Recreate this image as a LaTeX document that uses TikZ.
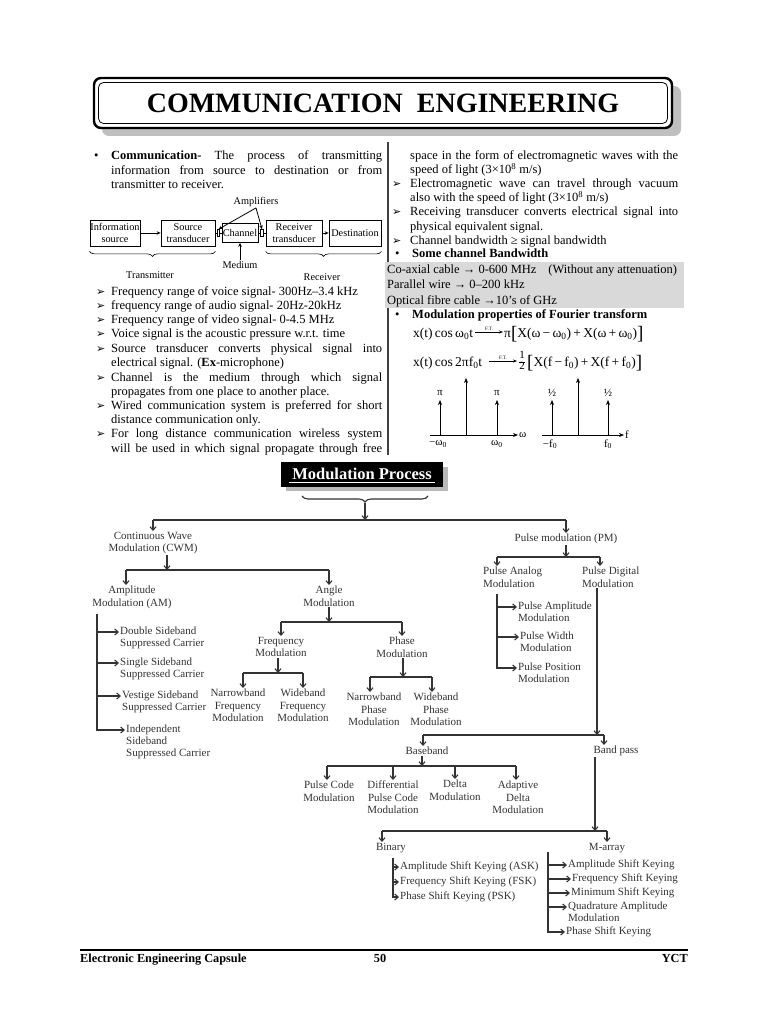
\documentclass[tikz,border=0pt]{standalone}
\usepackage{fontspec}
\setmainfont{Liberation Serif}
\newfontfamily\dejavu{DejaVu Sans}
\usetikzlibrary{arrows.meta,decorations.pathreplacing,calc}
\newcommand\bodyf{\fontsize{12.5}{14.2}\selectfont}
\newcommand\treef{\fontsize{11}{12.2}\selectfont}
\newcommand\blkf{\fontsize{10.3}{11.5}\selectfont}
\newcommand\frmf{\fontsize{13.5}{13.5}\selectfont}
\newcommand\arrb[1][15pt]{\makebox[#1][l]{\raisebox{0pt}{\dejavu\fontsize{11}{11}\selectfont ➢}}}
\newcommand\dotb[1][15pt]{\makebox[#1][l]{\textbullet}}
\newcommand\jl[2][271pt]{\makebox[#1][s]{#2}}
\newcommand\tabl[1]{\begin{tabular}[t]{@{}l@{}}#1\end{tabular}}
\newcommand\bigbr[1]{\raisebox{-2.5pt}{\fontsize{19}{19}\selectfont #1}}
\newcommand\op[1]{\,#1\,}
\definecolor{ink}{gray}{0.2}
\definecolor{band}{gray}{0.85}
\begin{document}
\begin{tikzpicture}[x=1pt,y=-1pt,
  txt/.style={anchor=base west,inner sep=0pt,font=\bodyf},
  blk/.style={draw,line width=0.8pt,font=\blkf,align=center,inner sep=0.5pt,minimum height=26pt},
  bl/.style={font=\blkf,inner sep=1pt},
  barr/.style={line width=0.8pt,-{Stealth[length=4pt,width=3.5pt]}},
  tn/.style={font=\treef,text=ink,align=center,inner sep=1pt,anchor=north},
  tnw/.style={font=\treef,text=ink,align=left,inner sep=1pt,anchor=north west},
  tnl/.style={font=\treef,text=ink,inner sep=0pt,anchor=mid west},
  tline/.style={draw=ink,line width=1.1pt},
  tarr/.style={draw=ink,line width=1.1pt,-{Straight Barb[length=3.5pt,width=6pt]}},
  harr/.style={tarr,shorten >=1pt},
  sarr/.style={line width=0.7pt,-{Stealth[length=5pt,width=4pt]}},
  fl/.style={anchor=base west,inner sep=0pt,font=\frmf},
  sl/.style={font=\fontsize{11}{11}\selectfont,inner sep=1pt},
]
\useasboundingbox (0,0) rectangle (768,1024);
\fill[white] (0,0) rectangle (768,1024);

% ---------- title ----------
\fill[gray!50,rounded corners=7pt] (102,86) rectangle (681,136);
\draw[line width=2.4pt,fill=white,rounded corners=7pt] (94,78) rectangle (672,128);
\draw[line width=0.8pt,rounded corners=5pt] (98.5,82.5) rectangle (667.5,123.5);
\node[font=\bfseries\fontsize{28}{30}\selectfont,inner sep=0pt] (title) at (383,103) {COMMUNICATION\ \ ENGINEERING};

% ---------- column divider ----------
\draw[line width=1.5pt,black!75] (388,142) -- (388,455);

% ---------- left column ----------
\node[txt] (c1) at (94,160) {\dotb[17pt]\jl[271pt]{\textbf{Communication-} The process of transmitting}};
\node[txt] (c2) at (111,175) {\jl{information from source to destination or from}};
\node[txt] (c3) at (111,189) {transmitter to receiver.};

% block diagram
\node[bl] (amp) at (256,202) {Amplifiers};
\node[blk,minimum width=50pt] (info) at (115,233) {Information\\source};
\node[blk,minimum width=54pt] (st) at (188,233) {Source\\transducer};
\node[blk,minimum width=36pt,minimum height=19pt] (ch) at (240,233) {Channel};
\node[blk,minimum width=56pt] (rt) at (294,233) {Receiver\\transducer};
\node[blk,minimum width=52pt] (dest) at (355,233) {Destination};
\draw[barr] (info) -- (st);
\draw[line width=0.8pt] (st) -- (ch);
\draw[line width=0.8pt] (ch) -- (rt);
\path (st.east) -- node[draw,fill=white,minimum width=2.5pt,minimum height=7pt,inner sep=0pt,line width=0.6pt] (k1) {} (ch.west);
\path (ch.east) -- node[draw,fill=white,minimum width=2.5pt,minimum height=7pt,inner sep=0pt,line width=0.6pt] (k2) {} (rt.west);
\draw[barr] (rt) -- (dest);
\draw[barr] (amp.south) -- (k1.north);
\draw[barr] (amp.south) -- (k2.north);
\node[bl] (med) at (240,265) {Medium};
\draw[barr] (med.north) -- (ch.south);
\draw[decorate,decoration={brace,mirror,amplitude=5pt},line width=0.6pt] ($(info.south west)+(0,5)$) -- ($(st.south east)+(0,5)$);
\draw[decorate,decoration={brace,mirror,amplitude=5pt},line width=0.6pt] ($(rt.south west)+(0,5)$) -- ($(dest.south east)+(0,5)$);
\node[bl] (tx) at (150,275) {Transmitter};
\node[bl] (rx) at (322,277) {Receiver};

\node[txt] (b1) at (96,295) {\arrb Frequency range of voice signal- 300Hz–3.4 kHz};
\node[txt] (b2) at (96,309) {\arrb frequency range of audio signal- 20Hz-20kHz};
\node[txt] (b3) at (96,323) {\arrb Frequency range of video signal- 0-4.5 MHz};
\node[txt] (b4) at (96,337) {\arrb Voice signal is the acoustic pressure w.r.t. time};
\node[txt] (b5) at (96,352) {\arrb\jl{Source transducer converts physical signal into}};
\node[txt] (b5b) at (111,366) {electrical signal. (\textbf{Ex}-microphone)};
\node[txt] (b6) at (96,381) {\arrb\jl{Channel is the medium through which signal}};
\node[txt] (b6b) at (111,395) {propagates from one place to another place.};
\node[txt] (b7) at (96,409) {\arrb\jl{Wired communication system is preferred for short}};
\node[txt] (b7b) at (111,423) {distance communication only.};
\node[txt] (b8) at (96,437) {\arrb\jl{For long distance communication wireless system}};
\node[txt] (b8b) at (111,452) {\jl{will be used in which signal propagate through free}};

% ---------- right column ----------
\node[txt] (r1) at (410,160) {\jl[268pt]{space in the form of electromagnetic waves with the}};
\node[txt] (r2) at (410,174) {speed of light (3×10\textsuperscript{8} m/s)};
\node[txt] (r3) at (392,188) {\arrb[18pt]\jl[268pt]{Electromagnetic wave can travel through vacuum}};
\node[txt] (r4) at (410,202) {also with the speed of light (3×10\textsuperscript{8} m/s)};
\node[txt] (r5) at (392,216) {\arrb[18pt]\jl[268pt]{Receiving transducer converts electrical signal into}};
\node[txt] (r6) at (410,230) {physical equivalent signal.};
\node[txt] (r7) at (392,244) {\arrb[18pt]Channel bandwidth ≥ signal bandwidth};
\node[txt] (r8) at (395,258) {\dotb[17pt]\textbf{Some channel Bandwidth}};
\fill[band] (385,262) rectangle (684,308);
\node[txt] (g1) at (387,273) {Co-axial cable → 0-600 MHz\hspace{12pt}(Without any attenuation)};
\node[txt] (g2) at (387,288.5) {Parallel wire → 0–200 kHz};
\node[txt] (g3) at (387,304) {Optical fibre cable →10’s of GHz};
\node[txt] (r9) at (395,318) {\dotb[17pt]\textbf{Modulation properties of Fourier transform}};

% formulas
\node[fl] (f1a) at (413,337) {x(t)\,cos\,ω\textsubscript{0}t};
\coordinate (f1s) at (475,332);
\coordinate (f1e) at (503,332);
\draw[line width=0.6pt,-{Stealth[length=4pt,width=3pt]}] (f1s) -- node[above,font=\fontsize{5}{5}\selectfont,inner sep=1pt] (ft1) {F.T.} (f1e);
\node[fl] (f1b) at (504,337) {π\bigbr{[}X(ω\op{−}ω\textsubscript{0})\op{+}X(ω\op{+}ω\textsubscript{0})\bigbr{]}};

\node[fl] (f2a) at (413,366) {x(t)\,cos\,2πf\textsubscript{0}t};
\coordinate (f2s) at (489,361);
\coordinate (f2e) at (517,361);
\draw[line width=0.6pt,-{Stealth[length=4pt,width=3pt]}] (f2s) -- node[above,font=\fontsize{5}{5}\selectfont,inner sep=1pt] (ft2) {F.T.} (f2e);
\node[inner sep=0pt,font=\fontsize{11}{11}\selectfont] (half) at (522,362) {\renewcommand\arraystretch{0.85}\begin{tabular}{@{}c@{}}1\\\hline 2\end{tabular}};
\node[fl] (f2b) at (527,366) {\bigbr{[}X(f\op{−}f\textsubscript{0})\op{+}X(f\op{+}f\textsubscript{0})\bigbr{]}};

% spectra
\coordinate (a1s) at (430,435);
\coordinate (a1e) at (518,435);
\draw[sarr] (a1s) -- (a1e);
\node[sl,anchor=west] (om) at (a1e) {ω};
\coordinate (p1) at (440,435);
\coordinate (p2) at (466,435);
\coordinate (p3) at (497,435);
\draw[sarr] (p1) -- ++(0,-35);
\draw[sarr] (p2) -- ++(0,-57);
\draw[sarr] (p3) -- ++(0,-35);
\node[sl] (pi1) at (440,393) {π};
\node[sl] (pi2) at (497,393) {π};
\node[sl] (mw) at (438,444) {−ω\textsubscript{0}};
\node[sl] (pw) at (497,444) {ω\textsubscript{0}};

\coordinate (a2s) at (542,435);
\coordinate (a2e) at (624,435);
\draw[sarr] (a2s) -- (a2e);
\node[sl,anchor=west] (fl) at (a2e) {f};
\coordinate (q1) at (552,435);
\coordinate (q2) at (578,435);
\coordinate (q3) at (608,435);
\draw[sarr] (q1) -- ++(0,-35);
\draw[sarr] (q2) -- ++(0,-57);
\draw[sarr] (q3) -- ++(0,-35);
\node[sl] (h1) at (552,393) {½};
\node[sl] (h2) at (608,393) {½};
\node[sl] (mf) at (550,444) {−f\textsubscript{0}};
\node[sl] (pf) at (608,444) {f\textsubscript{0}};

% ---------- modulation process ----------
\fill[gray!55] (286,467) rectangle (448,491);
\node[fill=black,text=white,font=\bfseries\fontsize{16.5}{16.5}\selectfont,minimum width=162pt,minimum height=25pt,inner sep=0pt] (mp) at (362,474) {Modulation Process};
\draw[white,line width=1pt] ($(mp.south west)+(8,-4)$) -- ($(mp.south east)+(-8,-4)$);
\draw[tline,decorate,decoration={brace,mirror,amplitude=6pt}] (302,496) -- (428,496);
\coordinate (bt) at (365,503);
\coordinate (j1) at (365,520);
\draw[tarr] (bt) -- (j1);

\node[tn] (cwm) at (153,531) {Continuous Wave\\Modulation (CWM)};
\node[tn] (pm) at (566,533) {Pulse modulation (PM)};
\draw[tline] (cwm.north |- j1) -- (pm.north |- j1);
\draw[tarr] (cwm.north |- j1) -- (cwm.north);
\draw[tarr] (pm.north |- j1) -- (pm.north);

\node[tn] (am) at (132,585) {Amplitude\\Modulation (AM)};
\node[tn] (angle) at (329,585) {Angle\\Modulation};
\coordinate (j2a) at (126,570);
\coordinate (j2b) at (329,570);
\coordinate (j2c) at (167,570);
\draw[tline] (j2a) -- (j2b);
\draw[tarr] (j2c |- cwm.south) -- (j2c);
\draw[tarr] (j2a) -- (j2a |- am.north);
\draw[tarr] (j2b) -- (angle.north);

\node[tnw] (pam) at (482,566) {Pulse Analog\\Modulation};
\node[tnw] (pdm) at (581,566) {Pulse Digital\\Modulation};
\coordinate (j3a) at (497,557);
\coordinate (j3b) at (600,557);
\draw[tline] (j3a) -- (j3b);
\draw[tarr] (pm.south) -- (pm.south |- j3a);
\draw[tarr] (j3a) -- (j3a |- pam.north);
\draw[tarr] (j3b) -- (j3b |- pdm.north);

% AM list
\node[tnl] (dsb) at (120,632) {\tabl{Double Sideband\\Suppressed Carrier}};
\node[tnl] (ssb) at (120,663) {\tabl{Single Sideband\\Suppressed Carrier}};
\node[tnl] (vsb) at (122,696) {\tabl{Vestige Sideband\\Suppressed Carrier}};
\node[tnl] (isb) at (126,730) {\tabl{Independent\\Sideband\\Suppressed Carrier}};
\coordinate (amv) at (97,614);
\draw[harr] (amv |- dsb.mid west) -- (dsb.mid west);
\draw[harr] (amv |- ssb.mid west) -- (ssb.mid west);
\draw[harr] (amv |- vsb.mid west) -- (vsb.mid west);
\draw[harr] (amv) |- (isb.mid west);

% angle
\node[tn] (fm) at (281,636) {Frequency\\Modulation};
\node[tn] (phm) at (402,636) {Phase\\Modulation};
\coordinate (j4a) at (281,622);
\coordinate (j4b) at (402,622);
\draw[tline] (j4a) -- (j4b);
\draw[tarr] (angle.south) -- (angle.south |- j4a);
\draw[tarr] (j4a) -- (fm.north);
\draw[tarr] (j4b) -- (phm.north);

\node[tn] (nbfm) at (238,688) {Narrowband\\Frequency\\Modulation};
\node[tn] (wbfm) at (303,688) {Wideband\\Frequency\\Modulation};
\coordinate (j5a) at (243,673);
\coordinate (j5b) at (303,673);
\coordinate (j5c) at (278,673);
\draw[tline] (j5a) -- (j5b);
\draw[tarr] (j5c |- fm.south) -- (j5c);
\draw[tarr] (j5a) -- (j5a |- nbfm.north);
\draw[tarr] (j5b) -- (wbfm.north);

\node[tn] (nbpm) at (374,692) {Narrowband\\Phase\\Modulation};
\node[tn] (wbpm) at (436,692) {Wideband\\Phase\\Modulation};
\coordinate (j6a) at (370,677);
\coordinate (j6b) at (432,677);
\coordinate (j6c) at (403,677);
\draw[tline] (j6a) -- (j6b);
\draw[tarr] (j6c |- phm.south) -- (j6c);
\draw[tarr] (j6a) -- (j6a |- nbpm.north);
\draw[tarr] (j6b) -- (j6b |- wbpm.north);

% pulse analog list
\node[tnl] (pamp) at (518,607) {\tabl{Pulse Amplitude\\Modulation}};
\node[tnl] (pwm) at (520,637) {\tabl{Pulse Width\\Modulation}};
\node[tnl] (ppm) at (518,668) {\tabl{Pulse Position\\Modulation}};
\coordinate (pav) at (497,594);
\draw[harr] (pav |- pamp.mid west) -- (pamp.mid west);
\draw[harr] (pav |- pwm.mid west) -- (pwm.mid west);
\draw[harr] (pav) |- (ppm.mid west);

% pulse digital
\node[tn] (baseband) at (427,746) {Baseband};
\node[tn] (bandpass) at (616,745) {Band pass};
\coordinate (j7a) at (423,735);
\coordinate (j7b) at (604,735);
\coordinate (j7c) at (597,735);
\draw[tline] (j7a) -- (j7b);
\draw[tarr] (j7c |- pdm.south) -- (j7c);
\draw[tarr] (j7a) -- (j7a |- baseband.north);
\draw[tarr] (j7b) -- (j7b |- bandpass.north);

\node[tn] (pcm) at (329,780) {Pulse Code\\Modulation};
\node[tn] (dpcm) at (393,780) {Differential\\Pulse Code\\Modulation};
\node[tn] (dm) at (455,779) {Delta\\Modulation};
\node[tn] (adm) at (518,780) {Adaptive\\Delta\\Modulation};
\coordinate (j8a) at (327,766);
\coordinate (j8b) at (393,766);
\coordinate (j8c) at (455,766);
\coordinate (j8d) at (516,766);
\coordinate (j8e) at (422,766);
\draw[tline] (j8a) -- (j8d);
\draw[tarr] (j8e |- baseband.south) -- (j8e);
\draw[tarr] (j8a) -- (j8a |- pcm.north);
\draw[tarr] (j8b) -- (dpcm.north);
\draw[tarr] (j8c) -- (dm.north);
\draw[tarr] (j8d) -- (j8d |- adm.north);

\node[tn] (binary) at (391,842) {Binary};
\node[tn] (marray) at (607,842) {M-array};
\coordinate (j9a) at (382,831);
\coordinate (j9b) at (607,831);
\coordinate (j9c) at (595,831);
\draw[tline] (j9a) -- (j9b);
\draw[tarr] (j9c |- bandpass.south) -- (j9c);
\draw[tarr] (j9a) -- (j9a |- binary.north);
\draw[tarr] (j9b) -- (marray.north);

\node[tnl] (ask) at (400,867) {\tabl{Amplitude Shift Keying (ASK)}};
\node[tnl] (fsk) at (400,882) {\tabl{Frequency Shift Keying (FSK)}};
\node[tnl] (psk) at (400,897) {\tabl{Phase Shift Keying (PSK)}};
\coordinate (bv) at (393,858);
\draw[harr] (bv |- ask.mid west) -- (ask.mid west);
\draw[harr] (bv |- fsk.mid west) -- (fsk.mid west);
\draw[harr] (bv) |- (psk.mid west);

\node[tnl] (m1) at (568,865) {\tabl{Amplitude Shift Keying}};
\node[tnl] (m2) at (572,879) {\tabl{Frequency Shift Keying}};
\node[tnl] (m3) at (571,893) {\tabl{Minimum Shift Keying}};
\node[tnl] (m4) at (568,907) {\tabl{Quadrature Amplitude\\Modulation}};
\node[tnl] (m5) at (566,932) {\tabl{Phase Shift Keying}};
\coordinate (mv) at (548,852);
\draw[harr] (mv |- m1.mid west) -- (m1.mid west);
\draw[harr] (mv |- m2.mid west) -- (m2.mid west);
\draw[harr] (mv |- m3.mid west) -- (m3.mid west);
\draw[harr] (mv |- m4.mid west) -- (m4.mid west);
\draw[harr] (mv) |- (m5.mid west);

% ---------- footer ----------
\draw[line width=1.6pt] (80,950) -- (688,950);
\node[anchor=base west,inner sep=0pt,font=\bfseries\fontsize{12.3}{12}\selectfont] (ft1) at (80,962) {Electronic Engineering Capsule};
\node[anchor=base,inner sep=0pt,font=\bfseries\fontsize{12.3}{12}\selectfont] (ft2) at (380,962) {50};
\node[anchor=base east,inner sep=0pt,font=\bfseries\fontsize{12.3}{12}\selectfont] (ft3) at (688,962) {YCT};
\end{tikzpicture}
\end{document}
